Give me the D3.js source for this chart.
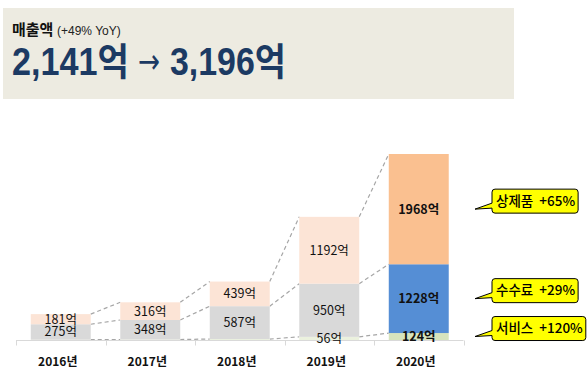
<!DOCTYPE html>
<html><head><meta charset="utf-8">
<script src="https://cdn.jsdelivr.net/npm/d3@7"></script>
<style>html,body{margin:0;padding:0;background:#fff;}svg{display:block;}text.pre{white-space:pre;}</style>
</head><body>
<svg id="chart" width="587" height="375"></svg>
<script>
const years = ["2016년","2017년","2018년","2019년","2020년"];
const services = [6, 9, 17, 56, 124];
const fees = [275, 348, 587, 950, 1228];
const products = [181, 316, 439, 1192, 1968];
const showServiceLabel = [false, false, false, true, true];
const callouts = [
  {key: "products", text: "상제품  +65%"},
  {key: "fees", text: "수수료  +29%"},
  {key: "services", text: "서비스  +120%"}
];
const headTitle = "매출액";
const headSub = "(+49% YoY)";
const headFrom = "2,141억";
const headTo = "3,196억";

const font = "'Noto Sans CJK KR','Noto Sans',sans-serif";
const svg = d3.select("#chart");

// header
svg.append("rect").attr("x",3).attr("y",8).attr("width",511).attr("height",91).attr("fill","#EDEBE1");
svg.append("text").attr("x",12).attr("y",35).attr("font-family",font).attr("font-size",15).attr("font-weight",700).attr("fill","#111").text(headTitle);
svg.append("text").attr("x",57).attr("y",35).attr("font-family","'Liberation Sans',Arial,sans-serif").attr("font-size",12).attr("fill","#222").text(headSub);
const bigFont = "'Liberation Sans','Noto Sans CJK KR',sans-serif";
svg.append("text").attr("x",12).attr("y",75).attr("font-family",bigFont).attr("font-size",38).attr("font-weight",700)
  .attr("fill","#1C3A63").attr("textLength",117).attr("lengthAdjust","spacingAndGlyphs").text(headFrom);
svg.append("text").attr("x",138).attr("y",73).attr("font-family","'DejaVu Sans',sans-serif").attr("font-size",34)
  .attr("fill","#1C3A63").attr("textLength",22).attr("lengthAdjust","spacingAndGlyphs").text("→");
svg.append("text").attr("x",170).attr("y",75).attr("font-family",bigFont).attr("font-size",38).attr("font-weight",700)
  .attr("fill","#1C3A63").attr("textLength",116).attr("lengthAdjust","spacingAndGlyphs").text(headTo);

// scales
const x = d3.scaleBand().domain(years).range([16,463.5]).paddingInner(0.33).paddingOuter(0.165);
const y = d3.scaleLinear().domain([0, 3320]).range([340, 154]);

const data = years.map((yr,i)=>({year:yr, services:services[i], fees:fees[i], products:products[i], i}));
const keys = ["services","fees","products"];
const stack = d3.stack().keys(keys)(data);

const oldColors = {services:"#EBF1DE", fees:"#D9D9D9", products:"#FCE4D6"};
const newColors = {services:"#D7E4BD", fees:"#558ED5", products:"#FAC090"};
const last = years.length - 1;

// dashed connectors
const conn = svg.append("g");
stack.forEach(layer=>{
  for(let i=0;i<layer.length-1;i++){
    conn.append("line")
      .attr("x1", x(years[i]) + x.bandwidth()).attr("y1", y(layer[i][1]))
      .attr("x2", x(years[i+1])).attr("y2", y(layer[i+1][1]))
      .attr("stroke","#A6A6A6").attr("stroke-width",1.2).attr("stroke-dasharray","4,3");
  }
});

// bars
stack.forEach(layer=>{
  svg.append("g").selectAll("rect").data(layer).join("rect")
    .attr("x", d=>x(d.data.year)).attr("width", x.bandwidth())
    .attr("y", d=>y(d[1])).attr("height", d=>y(d[0])-y(d[1]))
    .attr("fill", d=> d.data.i===last ? newColors[layer.key] : oldColors[layer.key]);
});

// axis
const axisG = svg.append("g");
axisG.append("line").attr("x1",16).attr("x2",463.5).attr("y1",340.5).attr("y2",340.5).attr("stroke","#D9D9D9");
const bounds = years.map(yr=>x(yr) - x.step()*x.paddingInner()/2).concat([463.5]);
bounds[0] = 16;
axisG.selectAll("line.tick").data(bounds).join("line").attr("class","tick")
  .attr("x1",d=>Math.round(d)+0.5).attr("x2",d=>Math.round(d)+0.5).attr("y1",340.5).attr("y2",345.5).attr("stroke","#D9D9D9");
axisG.selectAll("text").data(years).join("text")
  .attr("x", d=>x(d)+x.bandwidth()/2 - 3).attr("y", 366)
  .attr("text-anchor","middle").attr("font-family",font).attr("font-size",12).attr("font-weight",700).attr("fill","#111")
  .text(d=>d);

// value labels
stack.forEach(layer=>{
  svg.append("g").selectAll("text").data(layer.filter(d=> layer.key!=="services" || showServiceLabel[d.data.i])).join("text")
    .attr("x", d=>x(d.data.year)+x.bandwidth()/2)
    .attr("y", d=>(y(d[0])+y(d[1]))/2 + 4.5)
    .attr("text-anchor","middle").attr("font-family",font).attr("font-size",12.5)
    .attr("font-weight", d=> d.data.i===last ? 700 : 400).attr("fill","#111")
    .text(d=> d.data[layer.key] + "억");
});

// callouts
const tipX = 475, boxX = 492, boxH = 24, r = 3;
callouts.forEach(c=>{
  const layer = stack.find(l=>l.key===c.key);
  const d = layer[last];
  const tipY = (y(d[0])+y(d[1]))/2;
  const top = tipY - 20;
  const g = svg.append("g");
  const t = g.append("text").attr("class","pre").attr("x", boxX+4).attr("y", top+boxH/2+4.5)
    .attr("font-family",font).attr("font-size",13.5).attr("font-weight",500).attr("fill","#000").text(c.text);
  const w = t.node().getComputedTextLength() + 7;
  const x0 = boxX, x1 = boxX + w, y0 = top, y1 = top + boxH;
  const p = `M${x0+r},${y0} H${x1-r} A${r},${r} 0 0 1 ${x1},${y0+r} V${y1-r} A${r},${r} 0 0 1 ${x1-r},${y1} H${x0+r} A${r},${r} 0 0 1 ${x0},${y1-r} V${y0+19} L${tipX},${tipY} L${x0},${y0+14} V${y0+r} A${r},${r} 0 0 1 ${x0+r},${y0} Z`;
  g.insert("path","text").attr("d",p).attr("fill","#FFFF00").attr("stroke","#000").attr("stroke-width",1);
});
</script>
</body></html>
